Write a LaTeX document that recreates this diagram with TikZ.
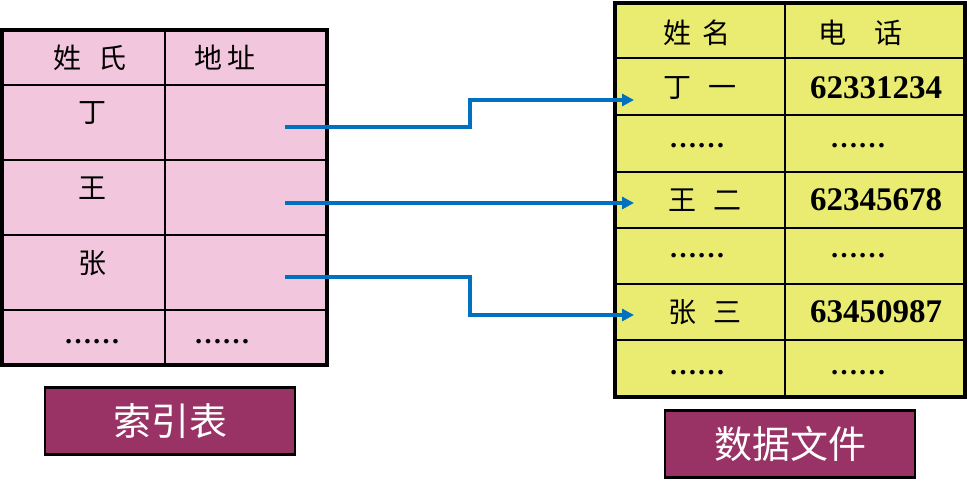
\documentclass[tikz,border=0pt]{standalone}
\usepackage{fontspec}
\setmainfont{Liberation Serif}
\newfontfamily\cjk{Noto Sans CJK SC}
\usetikzlibrary{arrows.meta}
\definecolor{pinkf}{HTML}{F2C6DD}
\definecolor{yel}{HTML}{E9EC70}
\definecolor{mag}{HTML}{993366}
\definecolor{arr}{HTML}{0070C0}
\begin{document}
\begin{tikzpicture}[x=1pt,y=-1pt,
  t/.style={font=\cjk\fontsize{28}{30}\selectfont,inner sep=0pt},
  d/.style={font=\bfseries\fontsize{28}{30}\selectfont,inner sep=0pt},
  n/.style={font=\bfseries\fontsize{33}{35}\selectfont,inner sep=0pt},
  lab/.style={draw=black,line width=2.5pt,fill=mag,text=white,font=\cjk\fontsize{38}{40}\selectfont,minimum width=250pt,minimum height=67pt},
  con/.style={draw=arr,line width=3.5pt,-{Triangle[length=12pt,width=12pt]}}]
\useasboundingbox (0,0) rectangle (970,490);
% left table
\fill[pinkf] (2,30) rectangle (327,365);
\foreach \y in {85,160,235,310} \draw[line width=2pt] (2,\y) -- (327,\y);
\draw[line width=2pt] (165,30) -- (165,365);
\draw[line width=4pt] (2,30) rectangle (327,365);
\node[t] (l1) at (90,58) {姓\hspace{0.6em}氏};
\node[t] (l2) at (225,58) {地\hspace{0.2em}址};
\node[t] (l3) at (92,113) {丁};
\node[t] (l4) at (92,188) {王};
\node[t] (l5) at (92,263) {张};
\node[d] (l6) at (92,342) {……};
\node[d] (l7) at (222,342) {……};
% right table
\fill[yel] (615,3) rectangle (965,397);
\foreach \y in {58,115,172,228,284,340} \draw[line width=2pt] (615,\y) -- (965,\y);
\draw[line width=2pt] (785,3) -- (785,397);
\draw[line width=4pt] (615,3) rectangle (965,397);
\node[t] (r1) at (697,33) {姓\hspace{0.4em}名};
\node[t] (r2) at (860,33) {电\hspace{1em}话};
\node[t] (r3) at (700,88) {丁\hspace{0.6em}一};
\node[n] (r4) at (876,88) {62331234};
\node[d] (r5) at (697,146) {……};
\node[d] (r6) at (858,146) {……};
\node[t] (r7) at (705,200) {王\hspace{0.6em}二};
\node[n] (r8) at (876,200) {62345678};
\node[d] (r9) at (697,256) {……};
\node[d] (r10) at (858,256) {……};
\node[t] (r11) at (705,312) {张\hspace{0.6em}三};
\node[n] (r12) at (876,312) {63450987};
\node[d] (r13) at (697,373) {……};
\node[d] (r14) at (858,373) {……};
% labels
\node[lab] (idx) at (170,421) {索引表};
\node[lab] (dat) at (790,444) {数据文件};
% connectors
\coordinate (a1) at (285,127); \coordinate (b1) at (634,100);
\coordinate (a2) at (285,203); \coordinate (b2) at (634,203);
\coordinate (a3) at (285,277); \coordinate (b3) at (634,315);
\draw[con] (a1) -- (470,127) -- (470,100) -- (b1);
\draw[con] (a2) -- (b2);
\draw[con] (a3) -- (470,277) -- (470,315) -- (b3);
\end{tikzpicture}
\end{document}
